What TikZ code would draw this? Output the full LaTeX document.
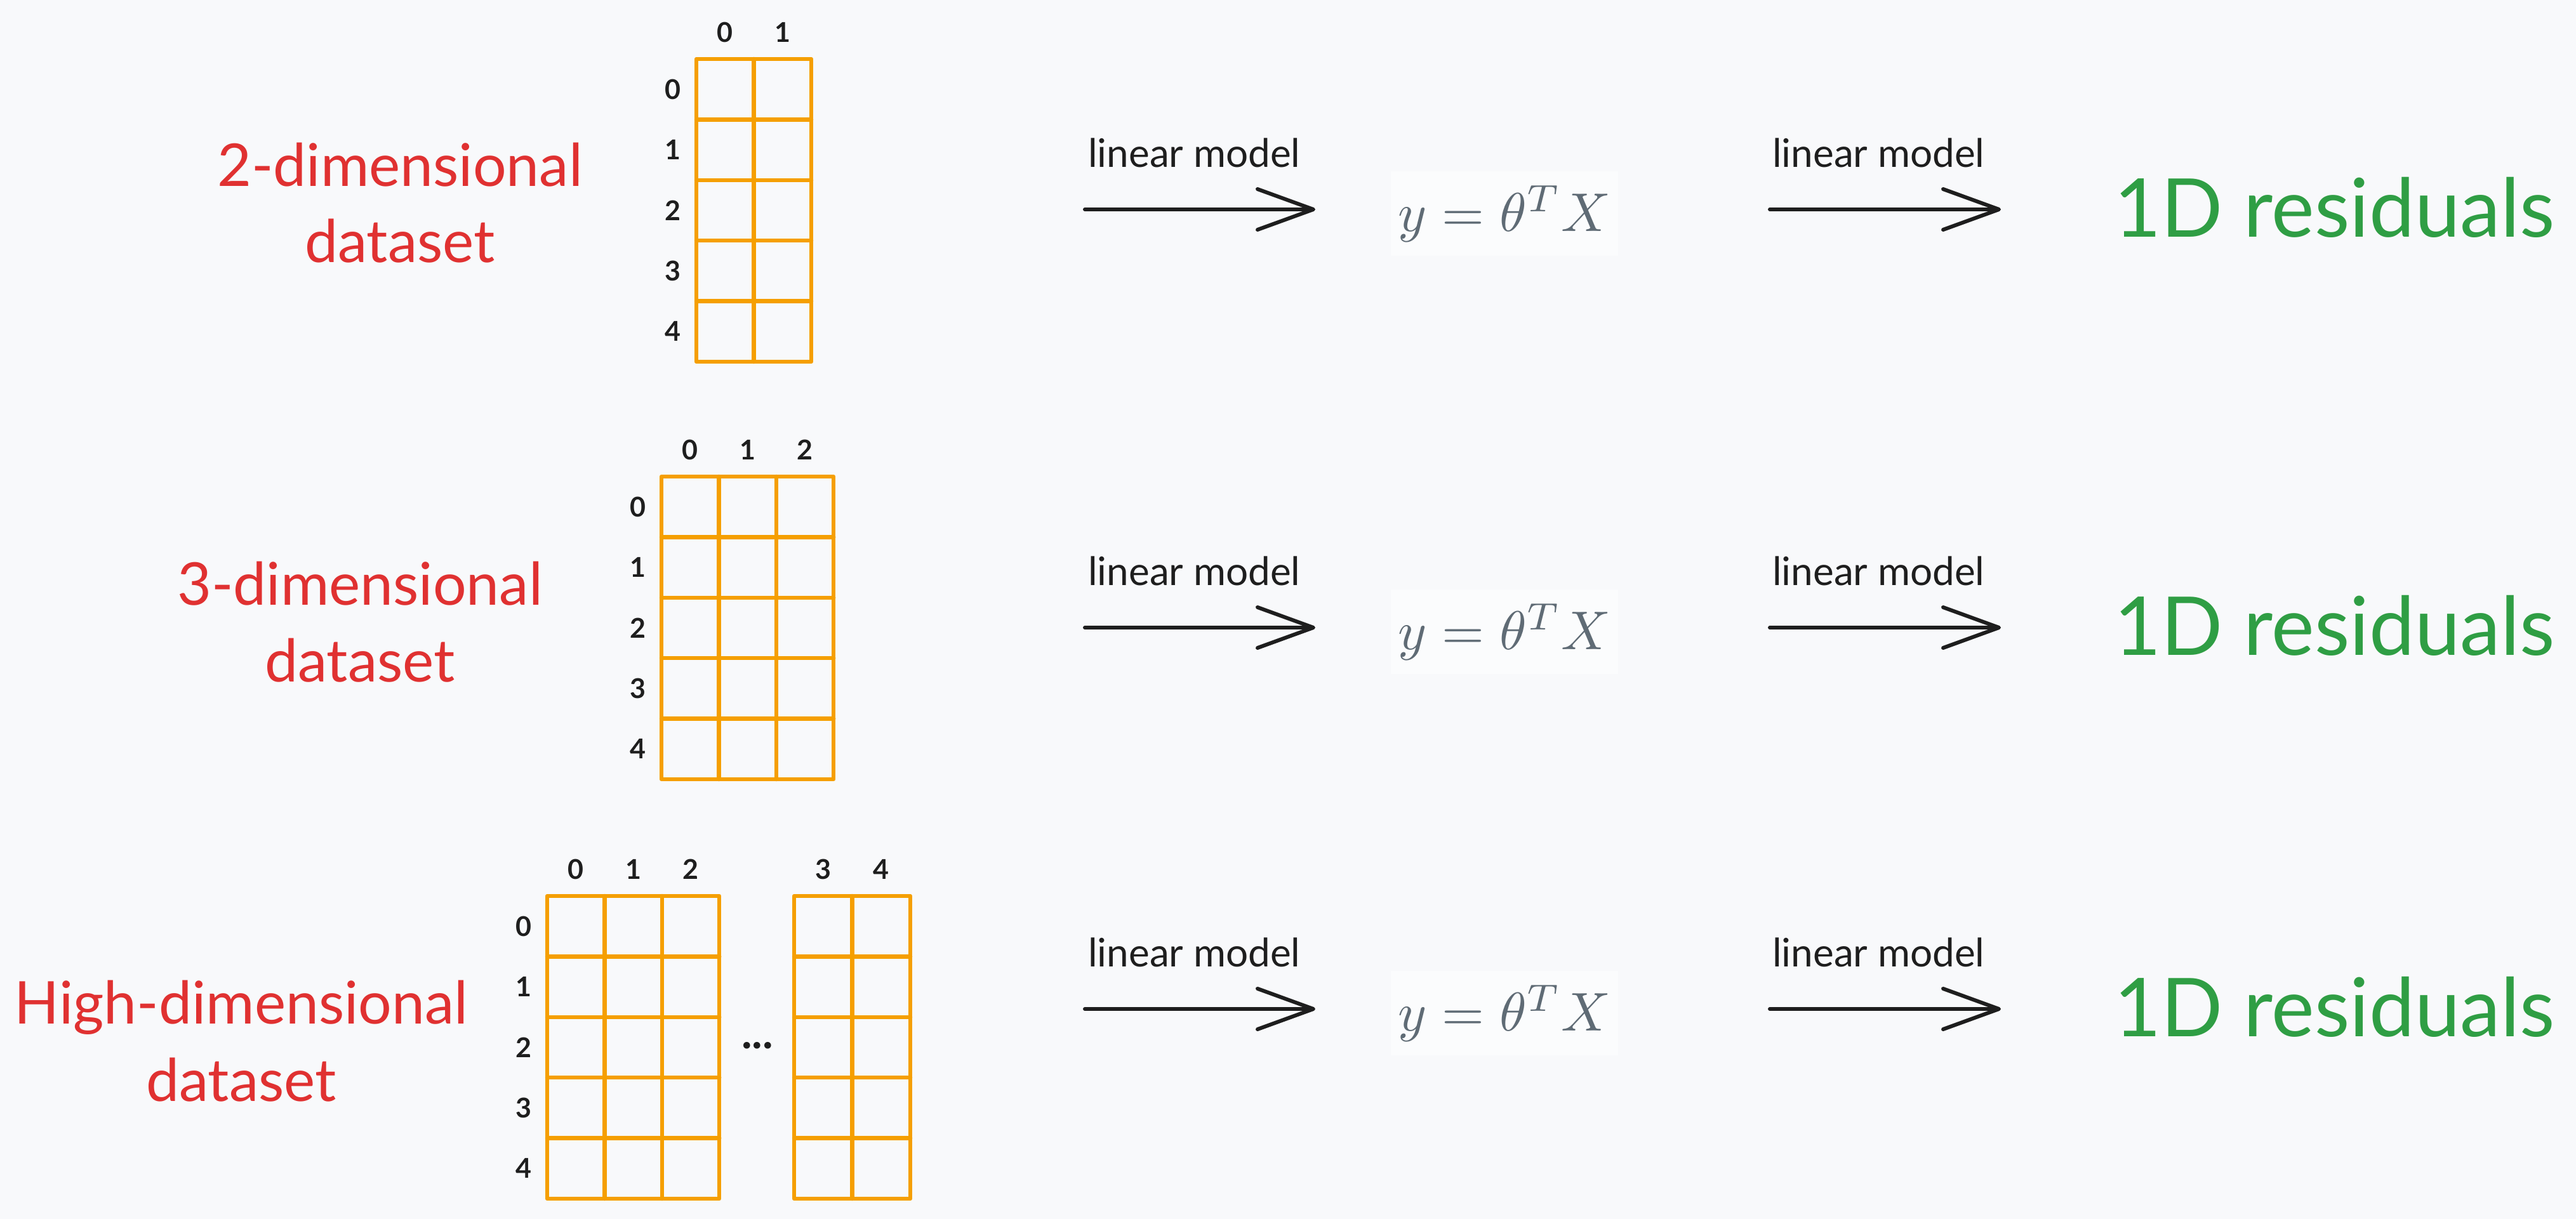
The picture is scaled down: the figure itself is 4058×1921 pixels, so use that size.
\documentclass[tikz,border=0pt]{standalone}
\usepackage{graphicx}
\usepackage{fontspec}
\newfontfamily\hand{Lato}
\usetikzlibrary{arrows.meta}
\definecolor{bg}{HTML}{F8F9FB}
\definecolor{gridor}{HTML}{F59F00}
\definecolor{redt}{HTML}{E03131}
\definecolor{greent}{HTML}{2F9E44}
\definecolor{ink}{HTML}{1E1E1E}
\definecolor{mathgrey}{HTML}{5F6B75}
\definecolor{fbox}{HTML}{FBFCFD}
\newcommand\gridbody[4]{% left, top, ncols, cellw
  \draw[cell] (#1,#2) rectangle ++({#3*#4},477);
  \pgfmathtruncatemacro\gn{#3-1}
  \foreach \c in {1,...,\gn} \draw[cell] ({#1+\c*#4},#2) -- ++(0,477);
  \foreach \rr in {1,...,4} \draw[cell] (#1,{#2+\rr*95.4}) -- ++({#3*#4},0);
}
\newcommand\rowlabels[3]{% name, left, top
  \foreach \rr in {0,...,4} \node[idx] (#1r\rr) at ({#2-37},{#3+47.7+\rr*95.4}) {\rr};
}
\begin{document}
\begin{tikzpicture}[x=1pt,y=-1pt,
  cell/.style={draw=gridor, line width=6.5pt, line join=round, line cap=round},
  idx/.style={font=\hand\bfseries\fontsize{43}{45}\selectfont, text=ink, inner sep=0pt},
  title/.style={font=\hand\fontsize{93}{120}\selectfont, text=redt, inner sep=0pt, anchor=base},
  lm/.style={font=\hand\fontsize{62}{70}\selectfont, text=ink, inner sep=0pt, anchor=base west},
  arr/.style={draw=ink, line width=6pt, line cap=round, -{Straight Barb[length=88pt, width=64pt, round]}},
  formula/.style={fill=fbox, text=mathgrey, minimum width=358pt, minimum height=133pt, inner sep=0pt},
  result/.style={font=\hand\fontsize{128}{140}\selectfont, text=greent, anchor=base west, inner sep=0pt}
]
\useasboundingbox (0,0) rectangle (4058,1921);
\fill[bg] (0,0) rectangle (4058,1921);

% titles
\node[title] (t1a) at (630,293) {2-dimensional};
\node[title] (t1b) at (630,413) {dataset};
\node[title] (t2a) at (567,953) {3-dimensional};
\node[title] (t2b) at (567,1074) {dataset};
\node[title] (t3a) at (380,1613) {High-dimensional};
\node[title] (t3b) at (380,1735) {dataset};

% grid 1
\gridbody{1097}{93}{2}{90.5}
\rowlabels{g1}{1097}{93}
\foreach \c in {0,1} \node[idx] (g1c\c) at ({1097+(\c+0.5)*90.5},51) {\c};

% grid 2
\gridbody{1042}{751}{3}{90.4}
\rowlabels{g2}{1042}{751}
\foreach \c in {0,1,2} \node[idx] (g2c\c) at ({1042+(\c+0.5)*90.4},709) {\c};

% grid 3
\gridbody{862}{1412}{3}{90.4}
\gridbody{1251}{1412}{2}{91.5}
\rowlabels{g3}{862}{1412}
\foreach \c in {0,1,2} \node[idx] (g3c\c) at ({862+(\c+0.5)*90.4},1370) {\c};
\foreach \c/\lab in {0/3,1/4} \node[idx] (g3d\c) at ({1251+(\c+0.5)*91.5},1370) {\lab};
\node[font=\hand\bfseries\fontsize{70}{70}\selectfont, text=ink, inner sep=0pt, anchor=base] (dots) at (1193,1652) {...};

% model rows
\foreach \r/\yy in {1/330, 2/989, 3/1590} {
  \coordinate (a\r s) at (1709,\yy);
  \coordinate (a\r e) at (2072,\yy);
  \coordinate (b\r s) at (2788,\yy);
  \coordinate (b\r e) at (3152,\yy);
  \draw[arr] (a\r s) -- (a\r e);
  \draw[arr] (b\r s) -- (b\r e);
  \node[lm] (la\r) at (1714,\yy-67) {linear model};
  \node[lm] (lb\r) at (2792,\yy-67) {linear model};
  \node[formula] (f\r) at (2370,\yy+6.5) {\scalebox{8.6}{$y=\theta^T X$}};
  \node[result] (res\r) at (3330,\yy+43) {1D residuals};
}
\end{tikzpicture}
\end{document}
